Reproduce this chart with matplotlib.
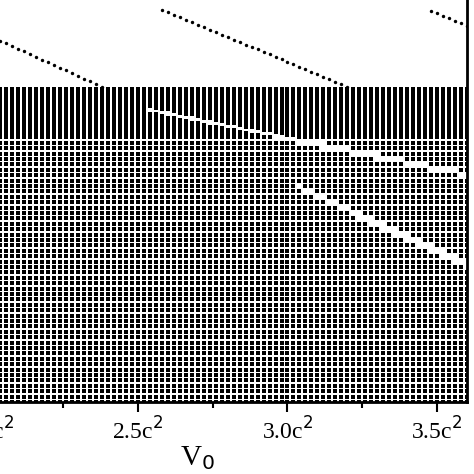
import numpy as np
import matplotlib.pyplot as plt

# V0 grid (in units of c^2) on which the spectrum was computed
v_start, v_stop, v_step = 2.00, 3.62, 0.02
# continuum levels: uniform part and dense part near the band edge
low_levels = np.arange(0.0, 0.85, 0.0172)
edge_levels = np.arange(0.85, 1.001, 0.0055)

# bound states above the band: (V at start, E at start, V at end, E at end)
bound_lines = [(2.02, 1.16, 2.39, 1.0),
               (2.58, 1.25, 3.21, 1.0),
               (3.47, 1.25, 3.62, 1.19)]
# states crossing the continuum (gaps in the dots)
gap_lines = [(2.54, 0.93, 3.62, 0.72),
             (3.04, 0.68, 3.62, 0.43)]

v = np.arange(v_start, v_stop, v_step)
levels = np.concatenate([low_levels, edge_levels])
V, E = np.meshgrid(v, levels)
V = V.ravel(); E = E.ravel()
keep = np.ones_like(V, dtype=bool)
for v1, e1, v2, e2 in gap_lines:
    s = (e2 - e1) / (v2 - v1)
    on = (V >= v1) & (V <= v2)
    keep &= ~(on & (np.abs(E - (e1 + s * (V - v1))) < 0.009))

fig = plt.figure(figsize=(4.74, 4.74), dpi=100)
ax = fig.add_axes([-0.1504, 0.152, 1.1354, 0.927])
ax.scatter(V[keep], E[keep], s=5, marker='s', color='k', linewidths=0)

for v1, e1, v2, e2 in bound_lines:
    vv = v[(v >= v1) & (v <= v2)]
    ax.scatter(vv, e1 + (e2 - e1) / (v2 - v1) * (vv - v1), s=6, color='k', linewidths=0)

ax.set_xlim(1.8, 3.6)
ax.set_ylim(0, 1.4)
ax.set_xticks([2.0, 2.5, 3.0, 3.5])
ax.set_xticks([2.25, 2.75, 3.25], minor=True)
ax.set_xticklabels(['2.0c$^2$', '2.5c$^2$', '3.0c$^2$', '3.5c$^2$'],
                   fontfamily='Liberation Serif', fontsize=17)
ax.tick_params(axis='x', which='major', direction='out', length=7, width=1.5, pad=4)
ax.tick_params(axis='x', which='minor', direction='out', length=4, width=1.5)
ax.set_yticks([])
ax.set_xlabel('V$_0$', fontfamily='Liberation Serif', fontsize=21, labelpad=0)
for sp in ax.spines.values():
    sp.set_linewidth(2)

fig.savefig('out.png', dpi=100)
